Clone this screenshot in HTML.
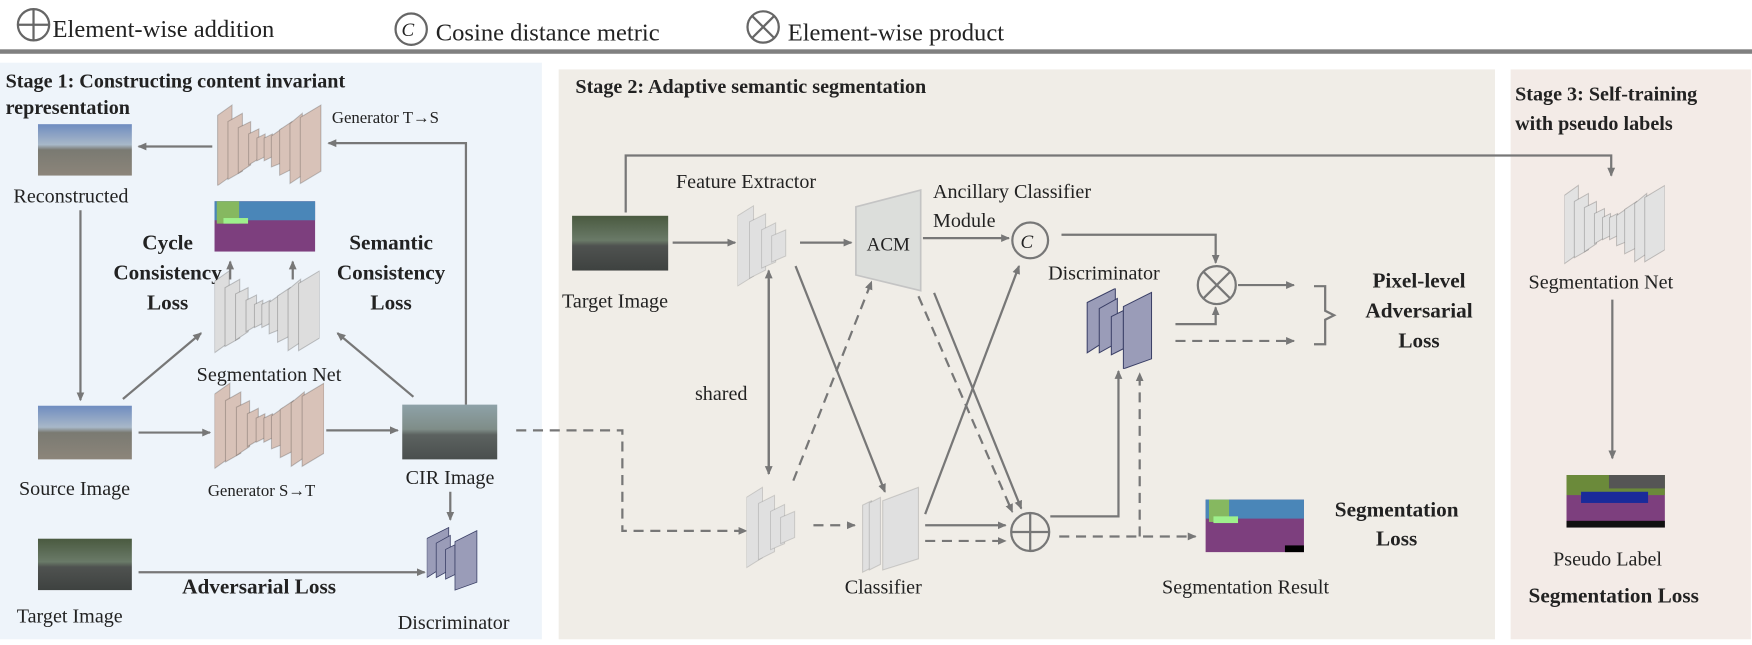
<!DOCTYPE html>
<html><head><meta charset="utf-8"><style>
html,body{margin:0;padding:0;background:#fff;}
svg{display:block;font-family:"Liberation Serif","DejaVu Serif",serif;}
svg text{font-family:"Liberation Serif","DejaVu Serif",serif;fill:#222;}
.b{font-weight:bold;}
</style></head><body>
<svg width="1752" height="645" viewBox="0 0 1568 577" xmlns="http://www.w3.org/2000/svg" font-family="Liberation Serif, DejaVu Serif, serif">
<defs>
<marker id="ah" markerWidth="8" markerHeight="8" refX="7" refY="4" orient="auto" markerUnits="userSpaceOnUse"><path d="M0,0.5 L8,4 L0,7.5 z" fill="#777"/></marker>
<linearGradient id="photo" x1="0" y1="0" x2="0" y2="1"><stop offset="0" stop-color="#6f8cc0"/><stop offset="0.4" stop-color="#a8b8c8"/><stop offset="0.5" stop-color="#7a7a72"/><stop offset="1" stop-color="#8c857a"/></linearGradient>
<linearGradient id="photo2" x1="0" y1="0" x2="0" y2="1"><stop offset="0" stop-color="#4a5a40"/><stop offset="0.45" stop-color="#6a7a68"/><stop offset="0.55" stop-color="#4f5250"/><stop offset="1" stop-color="#3e4240"/></linearGradient>
<linearGradient id="photo3" x1="0" y1="0" x2="0" y2="1"><stop offset="0" stop-color="#8ea2a8"/><stop offset="0.45" stop-color="#7f8d88"/><stop offset="0.55" stop-color="#5c6260"/><stop offset="1" stop-color="#4a4f4e"/></linearGradient>
<symbol id="ed" viewBox="0 0 100 80">
<g stroke="#00000033" stroke-width="1" fill="currentColor">
<polygon points="0,12 14,2 14,70 0,80"/><polygon points="10,18 24,10 24,66 10,74"/><polygon points="20,24 32,18 32,60 20,68"/><polygon points="30,30 40,25 40,54 30,60"/><polygon points="38,34 46,30 46,52 38,56"/><polygon points="45,34 53,30 53,52 45,56"/><polygon points="52,32 62,25 62,58 52,62"/><polygon points="60,26 72,18 72,64 60,70"/><polygon points="70,20 82,10 82,70 70,78"/><polygon points="80,14 100,2 100,66 80,78"/>
</g></symbol>
<symbol id="enc" viewBox="0 0 60 80">
<g stroke="#00000022" stroke-width="1" fill="currentColor">
<polygon points="0,10 16,0 16,70 0,80"/><polygon points="12,16 28,8 28,64 12,72"/><polygon points="24,24 38,17 38,56 24,62"/><polygon points="34,30 48,24 48,50 34,56"/>
</g></symbol>
<symbol id="dis" viewBox="0 0 80 80">
<g stroke="#3a3f66" stroke-width="1" fill="currentColor">
<polygon points="0,14 28,0 28,46 0,64"/><polygon points="12,20 30,10 30,54 12,64"/><polygon points="24,28 36,22 36,60 24,66"/><polygon points="36,18 64,4 64,70 36,80"/>
</g></symbol>
</defs>
<!-- legend -->
<g stroke="#666" stroke-width="2" fill="none">
<circle cx="30" cy="22" r="14"/><line x1="16" y1="22" x2="44" y2="22"/><line x1="30" y1="8" x2="30" y2="36"/>
<circle cx="368" cy="26" r="14"/>
<circle cx="683" cy="24" r="14"/><line x1="673" y1="14" x2="693" y2="34"/><line x1="693" y1="14" x2="673" y2="34"/>
</g>
<text x="365" y="32" font-size="17" font-style="italic" fill="#555" text-anchor="middle">C</text>
<text x="47" y="33" font-size="22">Element-wise addition</text>
<text x="390" y="36" font-size="22">Cosine distance metric</text>
<text x="705" y="36" font-size="22">Element-wise product</text>
<rect x="0" y="44" width="1568" height="4" fill="#808080"/>
<!-- panels -->
<rect x="0" y="56" width="485" height="516" fill="#eef4fa"/>
<rect x="500" y="62" width="838" height="510" fill="#f0ede7"/>
<rect x="1352" y="62" width="215" height="510" fill="#f3ebe7"/>
<!-- Stage 1 -->
<text x="5" y="78" font-size="18" class="b">Stage 1: Constructing content invariant</text>
<text x="5" y="102" font-size="18" class="b">representation</text>
<text x="297" y="110" font-size="15" fill="#444">Generator T→S</text>
<rect x="34" y="111" width="84" height="46" fill="url(#photo)"/>
<text x="12" y="181" font-size="18">Reconstructed</text>
<use href="#ed" x="192" y="92" width="98" height="74" style="color:#d8c2b8"/>
<rect x="192" y="180" width="90" height="45" fill="#7d3f7e"/><rect x="192" y="180" width="90" height="17" fill="#4a86b8"/><rect x="194" y="180" width="20" height="20" fill="#86b860"/><rect x="200" y="195" width="22" height="5" fill="#9ef08c"/>
<text x="150" y="223" font-size="19" class="b" text-anchor="middle">Cycle</text>
<text x="150" y="250" font-size="19" class="b" text-anchor="middle">Consistency</text>
<text x="150" y="277" font-size="19" class="b" text-anchor="middle">Loss</text>
<text x="350" y="223" font-size="19" class="b" text-anchor="middle">Semantic</text>
<text x="350" y="250" font-size="19" class="b" text-anchor="middle">Consistency</text>
<text x="350" y="277" font-size="19" class="b" text-anchor="middle">Loss</text>
<use href="#ed" x="192" y="237" width="94" height="82" style="color:#dddddd"/>
<text x="176" y="341" font-size="18">Segmentation Net</text>
<rect x="34" y="363" width="84" height="48" fill="url(#photo)"/>
<text x="17" y="443" font-size="18">Source Image</text>
<use href="#ed" x="192" y="340" width="98" height="80" style="color:#d8c2b8"/>
<text x="186" y="444" font-size="15" fill="#444">Generator S→T</text>
<rect x="360" y="362" width="85" height="49" fill="url(#photo3)"/>
<text x="363" y="433" font-size="18">CIR Image</text>
<use href="#dis" x="382" y="468" width="56" height="64" style="color:#9a9cb8"/>
<text x="356" y="563" font-size="18">Discriminator</text>
<rect x="34" y="482" width="84" height="46" fill="url(#photo2)"/>
<text x="15" y="557" font-size="18">Target Image</text>
<text x="163" y="531" font-size="19" class="b">Adversarial Loss</text>
<g stroke="#777" stroke-width="2" fill="none" marker-end="url(#ah)">
<line x1="190" y1="131" x2="124" y2="131"/>
<polyline points="417,362 417,128 294,128"/>
<line x1="206" y1="250" x2="206" y2="234"/><line x1="262" y1="250" x2="262" y2="234"/>
<line x1="72" y1="188" x2="72" y2="358"/>
<line x1="110" y1="357" x2="180" y2="298"/>
<line x1="370" y1="355" x2="302" y2="298"/>
<line x1="124" y1="387" x2="188" y2="387"/>
<line x1="292" y1="385" x2="356" y2="385"/>
<line x1="403" y1="440" x2="403" y2="465"/>
<line x1="124" y1="512" x2="380" y2="512"/>
</g>
<polyline points="462,385 557,385 557,475 668,475" stroke="#777" stroke-width="2" fill="none" stroke-dasharray="9,6" marker-end="url(#ah)"/>
<!-- Stage 2 -->
<text x="515" y="83" font-size="18" class="b">Stage 2: Adaptive semantic segmentation</text>
<rect x="512" y="193" width="86" height="49" fill="url(#photo2)"/>
<text x="503" y="275" font-size="18">Target Image</text>
<text x="605" y="168" font-size="18">Feature Extractor</text>
<use href="#enc" x="660" y="182" width="54" height="76" style="color:#e0e0e0"/>
<polygon points="766,185 824,170 824,260 766,246" fill="#dcdedb" stroke="#c4c4c4" stroke-width="1.5"/>
<text x="795" y="224" font-size="17" text-anchor="middle">ACM</text>
<text x="835" y="177" font-size="18">Ancillary Classifier</text>
<text x="835" y="203" font-size="18">Module</text>
<text x="622" y="358" font-size="18">shared</text>
<use href="#enc" x="668" y="432" width="54" height="80" style="color:#e0e0e0"/>
<g fill="#e0e0e0" stroke="#00000022"><polygon points="772,452 780,448 780,508 772,512"/><polygon points="778,450 788,445 788,505 778,510"/><polygon points="790,448 822,436 822,500 790,510"/></g>
<text x="756" y="531" font-size="18">Classifier</text>
<g stroke="#777" stroke-width="2" fill="none">
<circle cx="922" cy="215" r="16"/>
<circle cx="1089" cy="255" r="17"/><line x1="1077" y1="243" x2="1101" y2="267"/><line x1="1101" y1="243" x2="1077" y2="267"/>
<circle cx="922" cy="476" r="17"/><line x1="905" y1="476" x2="939" y2="476"/><line x1="922" y1="459" x2="922" y2="493"/>
<path d="M1176,256 h10 v22 l8,4 l-8,4 v22 h-10"/>
</g>
<text x="919" y="222" font-size="17" font-style="italic" fill="#555" text-anchor="middle">C</text>
<text x="938" y="250" font-size="18">Discriminator</text>
<use href="#dis" x="970" y="258" width="78" height="72" style="color:#9a9cb8"/>
<text x="1270" y="257" font-size="19" class="b" text-anchor="middle">Pixel-level</text>
<text x="1270" y="284" font-size="19" class="b" text-anchor="middle">Adversarial</text>
<text x="1270" y="311" font-size="19" class="b" text-anchor="middle">Loss</text>
<rect x="1079" y="447" width="88" height="47" fill="#7d3f7e"/><rect x="1079" y="447" width="88" height="17" fill="#4a86b8"/><rect x="1082" y="447" width="18" height="20" fill="#86b860"/><rect x="1086" y="462" width="22" height="6" fill="#9ef08c"/><rect x="1150" y="488" width="17" height="6" fill="#000"/>
<text x="1040" y="531" font-size="18">Segmentation Result</text>
<text x="1250" y="462" font-size="19" class="b" text-anchor="middle">Segmentation</text>
<text x="1250" y="488" font-size="19" class="b" text-anchor="middle">Loss</text>
<g stroke="#777" stroke-width="2" fill="none" marker-end="url(#ah)">
<polyline points="560,190 560,139 1442,139 1442,157"/>
<line x1="602" y1="217" x2="658" y2="217"/>
<line x1="716" y1="217" x2="762" y2="217"/>
<line x1="826" y1="213" x2="903" y2="213"/>
<polyline points="950,210 1088,210 1088,235"/>
<line x1="1108" y1="255" x2="1158" y2="255"/>
<polyline points="1052,290 1088,290 1088,275"/>
<line x1="688" y1="250" x2="688" y2="424"/>
<line x1="712" y1="238" x2="792" y2="440"/>
<line x1="828" y1="460" x2="912" y2="238"/>
<line x1="836" y1="262" x2="914" y2="455"/>
<line x1="828" y1="470" x2="900" y2="470"/>
<polyline points="940,462 1001,462 1001,332"/>
</g>
<line x1="688" y1="424" x2="688" y2="242" stroke="#777" stroke-width="2" marker-end="url(#ah)"/>
<g stroke="#777" stroke-width="2" fill="none" stroke-dasharray="9,6" marker-end="url(#ah)">
<line x1="1052" y1="305" x2="1158" y2="305"/>
<line x1="728" y1="470" x2="765" y2="470"/>
<line x1="710" y1="430" x2="780" y2="252"/>
<line x1="822" y1="265" x2="906" y2="458"/>
<line x1="828" y1="484" x2="900" y2="484"/>
<line x1="948" y1="480" x2="1070" y2="480"/>
<polyline points="1020,480 1020,334"/>
</g>
<!-- Stage 3 -->
<text x="1356" y="90" font-size="18" class="b">Stage 3: Self-training</text>
<text x="1356" y="116" font-size="18" class="b">with pseudo labels</text>
<use href="#ed" x="1400" y="160" width="90" height="80" style="color:#e2e2e2"/>
<text x="1368" y="258" font-size="18">Segmentation Net</text>
<line x1="1443" y1="268" x2="1443" y2="410" stroke="#777" stroke-width="2" marker-end="url(#ah)"/>
<rect x="1402" y="425" width="88" height="47" fill="#7d3f7e"/><rect x="1402" y="425" width="88" height="18" fill="#6b8a3a"/><rect x="1440" y="425" width="50" height="12" fill="#555"/><rect x="1415" y="440" width="60" height="10" fill="#1a2a9a"/><rect x="1402" y="466" width="88" height="6" fill="#111"/>
<text x="1390" y="506" font-size="18">Pseudo Label</text>
<text x="1368" y="539" font-size="19" class="b">Segmentation Loss</text>
</svg>
</body></html>
